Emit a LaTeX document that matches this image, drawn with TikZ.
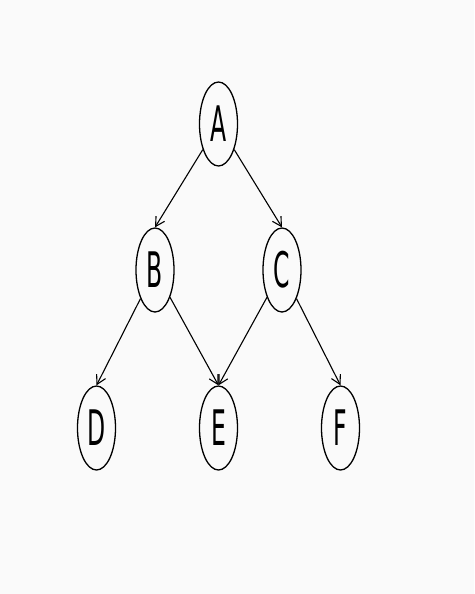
\documentclass[tikz,border=0pt]{standalone}
\usepackage{fontspec}
\setmainfont{DejaVu Sans}
\usetikzlibrary{shapes.geometric,arrows.meta}
\definecolor{bgc}{RGB}{250,250,250}
\tikzset{
  vert/.style={ellipse, draw=black, line width=1.3pt, inner sep=0pt,
    minimum width=38pt, minimum height=84pt, font=\fontsize{49}{49}\selectfont},
  edge/.style={line width=1.1pt, -{Straight Barb[length=9pt,width=10pt,line width=1.1pt]}}
}
\newcommand{\lbl}[1]{\scalebox{0.48}[1]{#1}}
\begin{document}
\begin{tikzpicture}[x=1pt,y=-1pt]
\fill[bgc] (0,0) rectangle (474,594);
\useasboundingbox (0,0) rectangle (474,594);
\node[vert] (A) at (218.5,124) {\lbl{A}};
\node[vert] (B) at (155,270) {\lbl{B}};
\node[vert] (C) at (282,270) {\lbl{C}};
\node[vert] (D) at (96.5,428) {\lbl{D}};
\node[vert] (E) at (218.5,428) {\lbl{E}};
\node[vert] (F) at (340.5,428) {\lbl{F}};
\draw[edge] (A) -- (B.north);
\draw[edge] (A) -- (C.north);
\draw[edge] (B) -- (D.north);
\draw[edge] (B) -- (E.north);
\draw[edge] (C) -- (E.north);
\draw[edge] (C) -- (F.north);
\end{tikzpicture}
\end{document}
